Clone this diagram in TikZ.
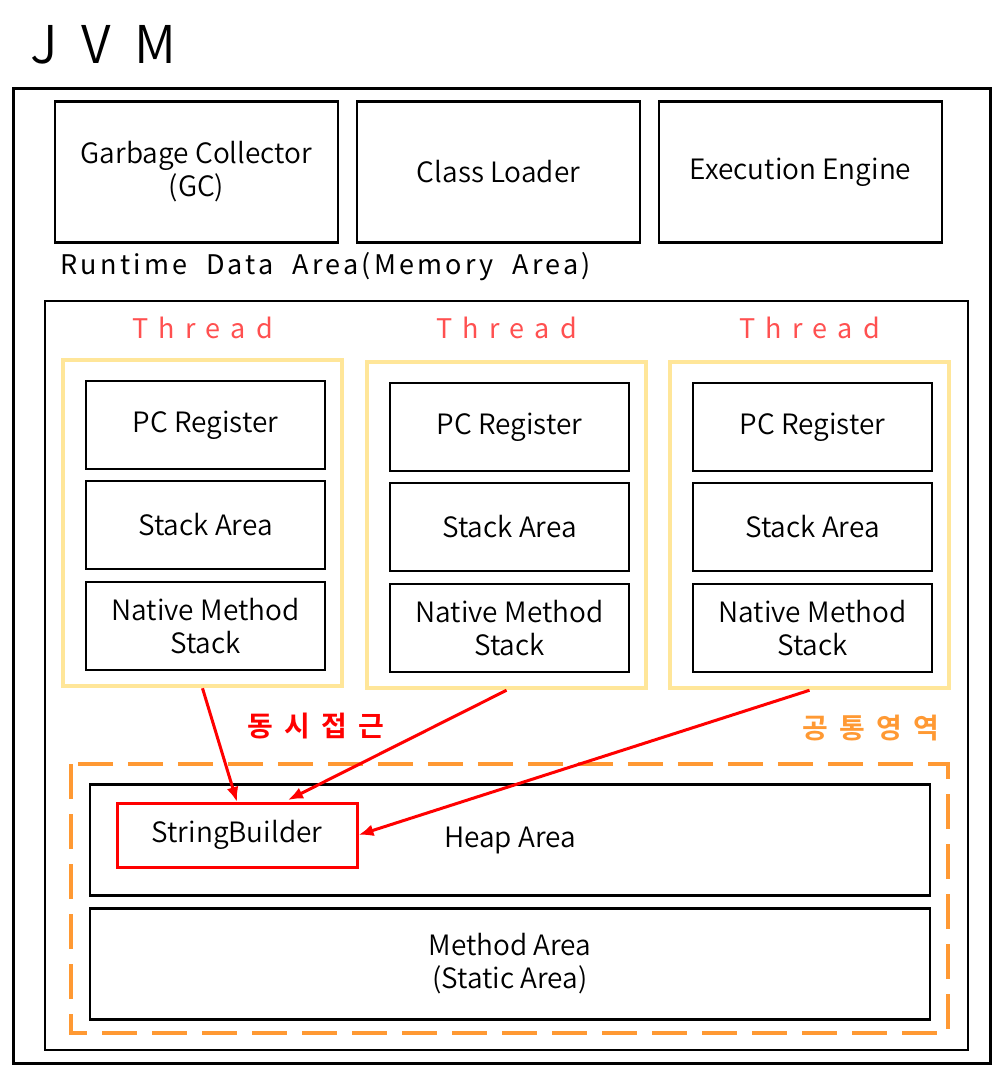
\documentclass[tikz,border=0pt]{standalone}
\usepackage{fontspec}
\setmainfont{Noto Sans CJK KR}[UprightFont=* DemiLight,BoldFont=* Bold]
\newfontfamily\regularfont{Noto Sans CJK KR}
\usetikzlibrary{arrows.meta}

\definecolor{threadred}{HTML}{FF5050}
\definecolor{threadyellow}{HTML}{FFE699}
\definecolor{sharedorange}{HTML}{FF9933}

\tikzset{
  box/.style={draw,line width=2.5pt,minimum width=239pt,minimum height=88pt,
    align=center,font=\fontsize{28}{33}\selectfont,inner sep=0pt},
  topbox/.style={box,minimum width=283pt,minimum height=141pt},
  areabox/.style={box,minimum width=840pt,minimum height=111pt},
  threadbox/.style={draw=threadyellow,line width=4.5pt,minimum width=279pt,minimum height=326pt,inner sep=0pt},
  threadlabel/.style={text=threadred,font=\regularfont\fontsize{27}{30}\selectfont\addfontfeature{LetterSpace=38}},
  access/.style={red,line width=3pt,-{Latex[length=15pt,width=12pt]}}
}

\begin{document}
\begin{tikzpicture}[x=1pt,y=-1pt]
    \useasboundingbox (0,0) rectangle (991,1065);

    % title
    \node[font=\fontsize{52}{54}\selectfont\addfontfeature{LetterSpace=45},anchor=west] (title) at (27,45) {JVM};

    % JVM frame
    \draw[line width=3pt] (13,88) rectangle (990,1063);

    % engines
    \node[topbox] (gc) at (196.5,172) {Garbage Collector\\(GC)};
    \node[topbox] (loader) at (498.5,172) {Class Loader};
    \node[topbox] (engine) at (800.5,172) {Execution Engine};

    % runtime data area
    \node[font=\regularfont\fontsize{27}{30}\selectfont\addfontfeature{LetterSpace=12},anchor=west] (rda) at (57,267) {Runtime\ \ Data\ \ Area(Memory\ \ Area)};
    \draw[line width=2.5pt] (45,301) rectangle (968,1050);

    % threads
    \foreach \n/\x/\y in {1/202.5/523, 2/506.5/525, 3/809.5/525}{
      \node[threadbox] (t\n) at (\x,\y) {};
      \node[threadlabel] (tl\n) at (\x,328) {Thread};
      \node[box] (pc\n) at (\x+3,\y-98) {PC Register};
      \node[box] (stack\n) at (\x+3,\y+2) {Stack Area};
      \node[box] (native\n) at (\x+3,\y+103) {Native Method\\Stack};
    }

    % shared area
    \node[text=red,font=\fontsize{28}{30}\selectfont\bfseries\addfontfeature{LetterSpace=40}] (conc) at (316,726) {동시접근};
    \node[text=sharedorange,font=\fontsize{28}{30}\selectfont\bfseries\addfontfeature{LetterSpace=40}] (common) at (871,728) {공통영역};
    \draw[sharedorange,line width=4.5pt,dash pattern=on 35pt off 15pt] (71,764) rectangle (948,1033);

    \node[areabox] (heap) at (510,840) {Heap Area};
    \node[areabox] (method) at (510,964) {Method Area\\(Static Area)};
    \node[box,draw=red,line width=3pt,minimum width=240pt,minimum height=64pt] (sb) at (237,835) {StringBuilder};

    % concurrent access
    \coordinate (sb1) at (237,802);
    \coordinate (sb2) at (288,800);
    \draw[access] (t1.south) -- (sb1);
    \draw[access] (t2.south) -- (sb2);
    \draw[access] (t3.south) -- (sb.east);

\end{tikzpicture}
\end{document}
